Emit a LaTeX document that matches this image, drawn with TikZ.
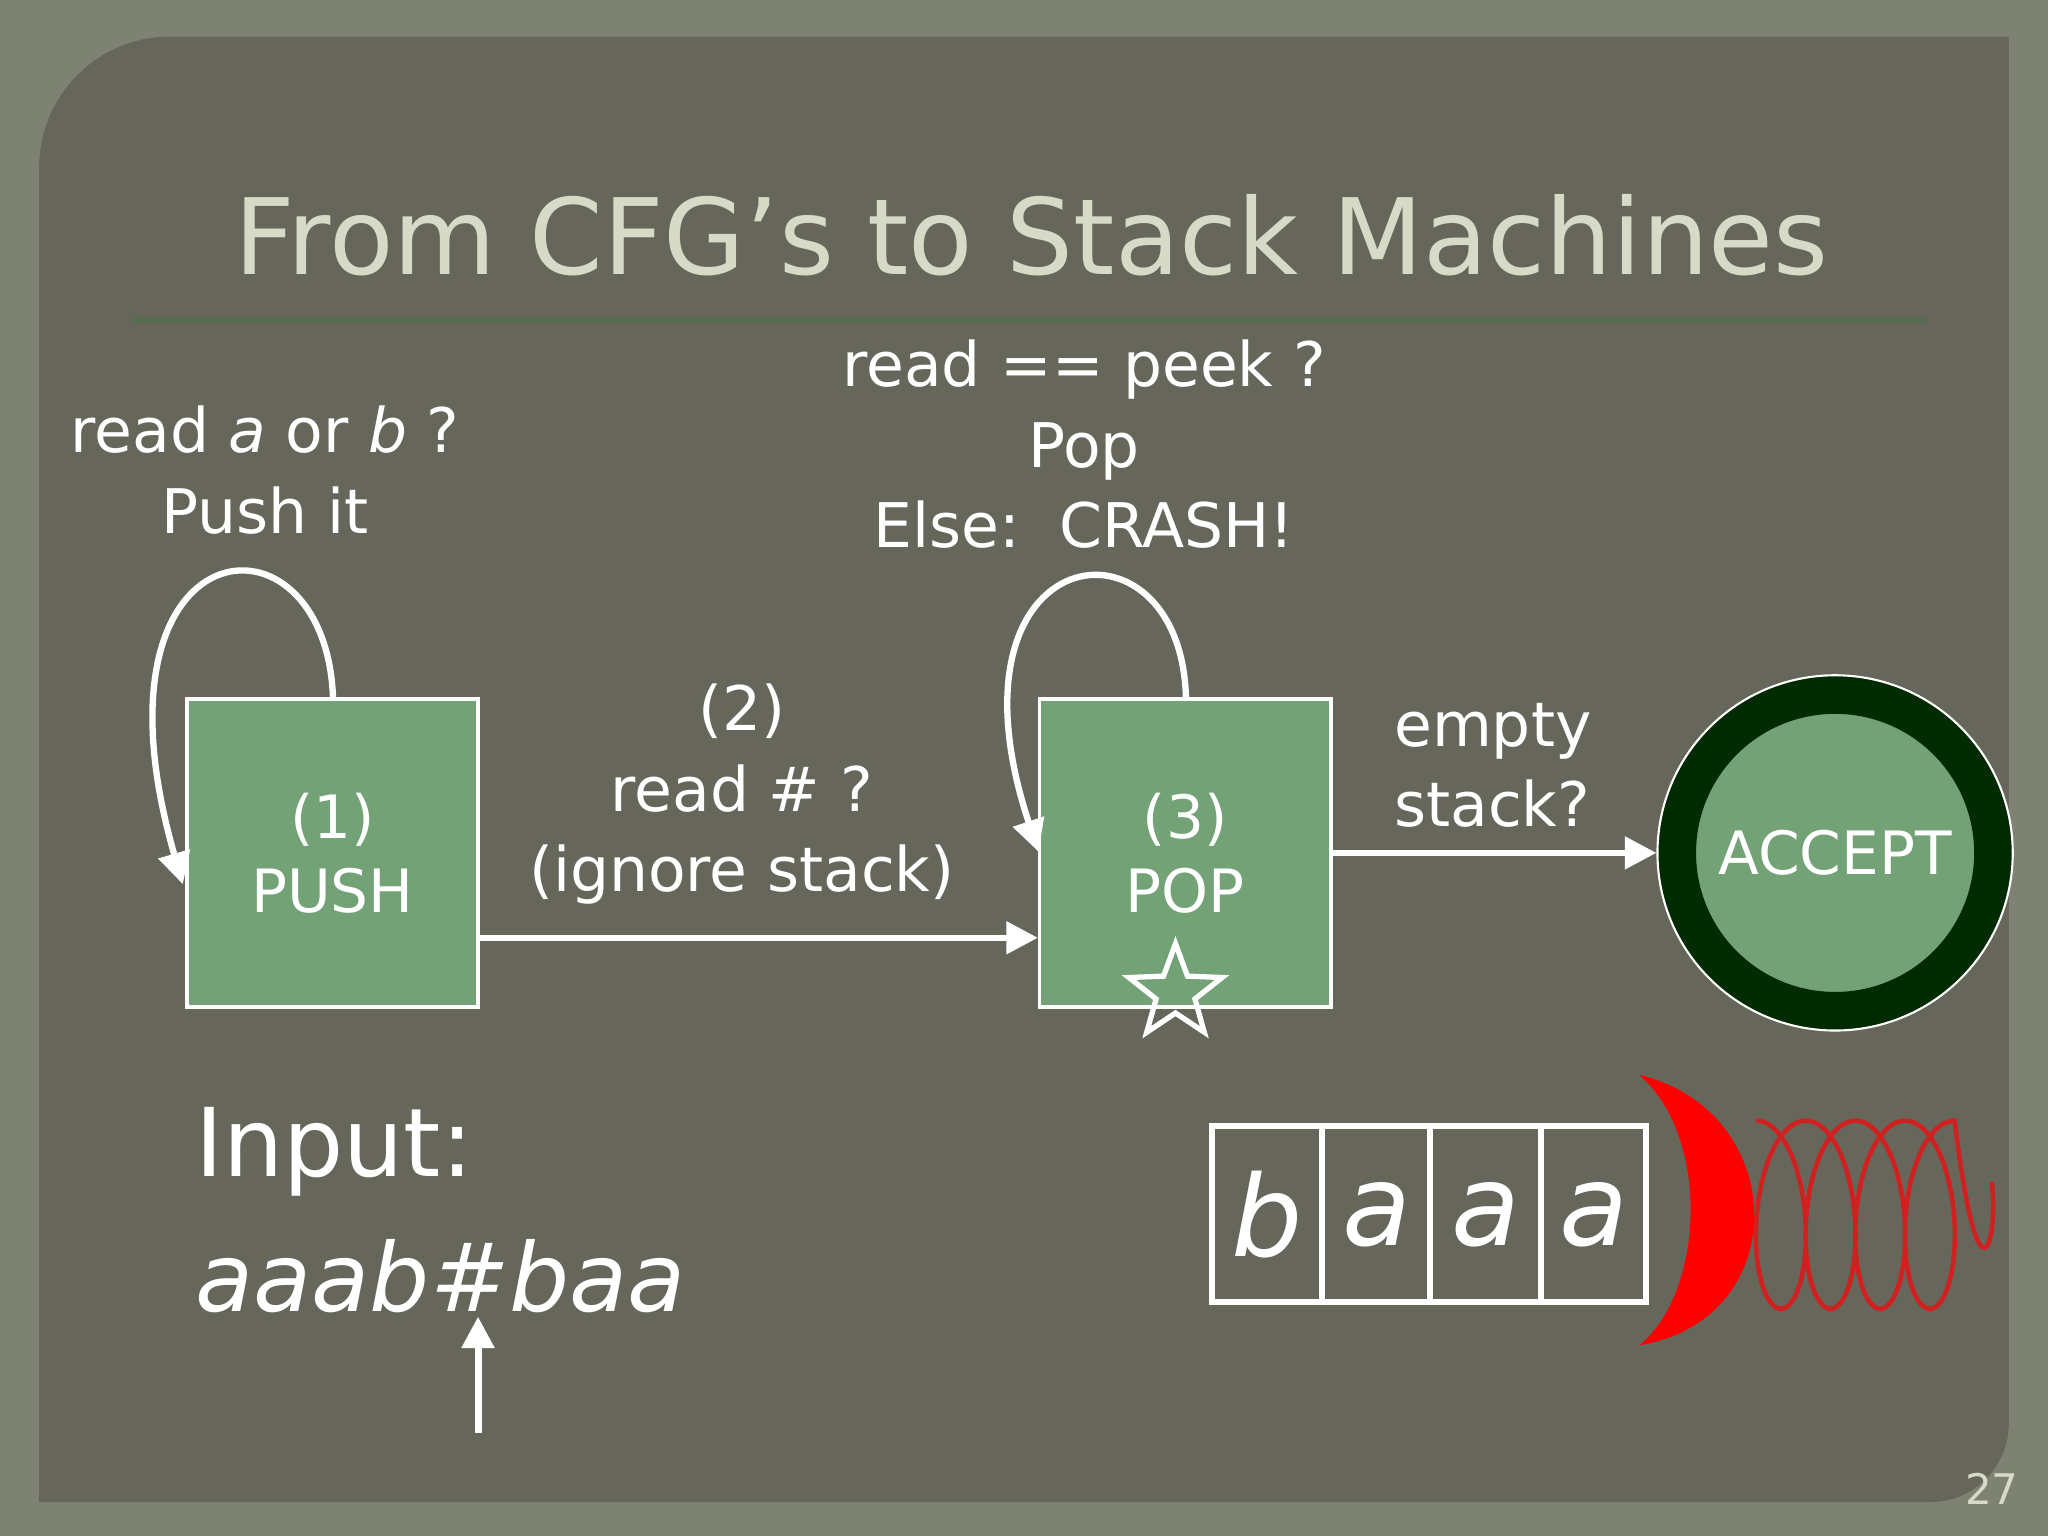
\documentclass[tikz,border=0pt]{standalone}
\usepackage{fontspec}
\setmainfont{DejaVu Sans}
\usetikzlibrary{arrows.meta,shapes.geometric}
\definecolor{outer}{HTML}{7E8272}
\definecolor{panel}{HTML}{66675A}
\definecolor{boxg}{HTML}{72A276}
\definecolor{dkg}{HTML}{002A00}
\definecolor{ttl}{HTML}{D6DAC6}
\definecolor{spring}{HTML}{D02020}
\tikzset{
 box/.style={draw=white,line width=1pt,fill=boxg,minimum width=223*0.13061mm,minimum height=236*0.13061mm,text=white,font=\fontsize{17}{21}\selectfont,align=center,inner sep=0},
 lbl/.style={text=white,font=\fontsize{17.5}{23}\selectfont,align=center},
 arr/.style={white,line width=1.8pt,-{Triangle[length=9pt,width=9pt]}},
}
\begin{document}
\begin{tikzpicture}[x=0.13061mm,y=-0.13061mm]
\fill[outer] (0,0) rectangle (1568,1176);
\useasboundingbox (0,0) rectangle (1568,1176);
\fill[panel] (30,1150) -- (30,128) .. controls (30,73) and (75,28) .. (130,28) -- (1538,28) -- (1538,1090) .. controls (1538,1123) and (1511,1150) .. (1478,1150) -- cycle;
\node[text=ttl,font=\fontsize{30}{36}\selectfont] (title) at (790,180) {From CFG’s to Stack Machines};
\draw[color={rgb,255:red,80;green,110;blue,80},line width=1pt] (100,245) -- (1475,245);
\node[box] (push) at (254.5,653) {(1)\\PUSH};
\node[box] (pop) at (907.5,653) {(3)\\POP};
\node[circle,fill=dkg,draw=white,line width=0.6pt,minimum size=272*0.13061mm] (acc) at (1405,653) {};
\node[circle,fill=boxg,draw=dkg,minimum size=214*0.13061mm,text=white,font=\fontsize{17}{21}\selectfont,inner sep=0] (acci) at (1405,653) {ACCEPT};
\node[lbl] (l1) at (203,360) {read \textit{a} or \textit{b} ?\\Push it};
\node[lbl] (l2) at (830,340) {read == peek ?\\Pop\\Else:\ \ CRASH!};
\node[lbl] (l3) at (568,608) {(2)\\read \# ?\\(ignore stack)};
\node[lbl,align=left] (l4) at (1143,586) {empty\\stack?};
\draw[arr] (push.east|-0,718) -- (pop.west|-0,718);
\draw[arr] (pop.east) -- (acc.west);
\coordinate (pt) at (255,535);
\coordinate (pp) at (908,535);
\draw[arr] (pt) .. controls (250,380) and (60,400) .. (140,677);
\draw[arr] (pp) .. controls (905,385) and (715,410) .. (795,652);
\node[star,star points=5,star point ratio=2.4,draw=white,line width=1.5pt,minimum size=75*0.13061mm,inner sep=0] (st) at (900,760) {};
\node[text=white,font=\fontsize{27}{33}\selectfont,anchor=west] (inp) at (140,882) {Input:};
\node[text=white,font=\fontsize{27}{33}\selectfont\itshape,anchor=west] (str) at (140,977) {aaab\#baa};
\coordinate (ab) at (366,1097);
\draw[white,line width=2pt,-{Triangle[length=9pt,width=9pt]}] (ab) -- (366,1008);
% tape
\draw[white,line width=1.6pt] (928,862) rectangle (1260,997);
\foreach \x in {1012,1095,1180} \draw[white,line width=1.6pt] (\x,862) -- (\x,997);
\foreach \c/\t in {970/b,1054/a,1138/a,1220/a}
 \node[text=white,font=\fontsize{32}{36}\selectfont\itshape] (t\c) at (\c,930) {\t};
% spring
\draw[spring,line width=1.3pt,smooth] plot[domain=90:1530,samples=300,variable=\t] ({1335+0.10556*\t-28*cos(\t)},{930-72*sin(\t)}) .. controls (1515,1010) and (1530,950) .. (1525,905);
\fill[red] (1255,823) .. controls (1370,850) and (1375,1010) .. (1255,1030) .. controls (1305,990) and (1310,870) .. cycle;
\node[text=ttl,font=\fontsize{12}{14}\selectfont] (pg) at (1525,1140) {27};
\end{tikzpicture}
\end{document}
